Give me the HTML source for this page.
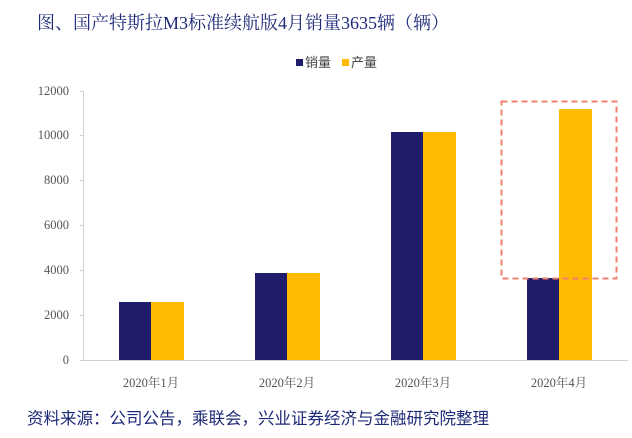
<!DOCTYPE html>
<html><head><meta charset="utf-8"><style>
body{margin:0;background:#fff;width:632px;height:433px;overflow:hidden;font-family:"Liberation Serif","Noto Serif CJK SC",serif}
</style></head><body>
<svg width="632" height="433" xmlns="http://www.w3.org/2000/svg">
<text x="37" y="29" font-size="18" fill="#1e2a78" font-family="Liberation Serif, Noto Serif CJK SC, serif">图、国产特斯拉M3标准续航版4月销量3635辆（辆）</text>
<rect x="296" y="59" width="7" height="7" fill="#1f1d6b"/>
<text x="305" y="67" font-size="13" fill="#444" font-family="Liberation Sans, Noto Sans CJK SC, sans-serif">销量</text>
<rect x="342" y="59" width="7" height="7" fill="#ffbb00"/>
<text x="351" y="67" font-size="13" fill="#444" font-family="Liberation Sans, Noto Sans CJK SC, sans-serif">产量</text>
<g font-size="12.5" fill="#555" text-anchor="end">
<text x="69" y="364">0</text><text x="69" y="319">2000</text><text x="69" y="274">4000</text>
<text x="69" y="229">6000</text><text x="69" y="184">8000</text><text x="69" y="139">10000</text><text x="69" y="95">12000</text>
</g>
<g stroke="#d0d0d0" stroke-width="1">
<line x1="83.5" y1="91" x2="83.5" y2="360"/>
<line x1="80" y1="360.5" x2="628" y2="360.5"/>
<line x1="80" y1="315.5" x2="83" y2="315.5"/>
<line x1="80" y1="270.5" x2="83" y2="270.5"/><line x1="80" y1="225.5" x2="83" y2="225.5"/>
<line x1="80" y1="180.5" x2="83" y2="180.5"/><line x1="80" y1="135.5" x2="83" y2="135.5"/>
<line x1="80" y1="91.5" x2="83" y2="91.5"/>
</g>
<g fill="#1f1d6b">
<rect x="119" y="302" width="32" height="58"/><rect x="255" y="273" width="32" height="87"/>
<rect x="391" y="132" width="32" height="228"/><rect x="527" y="278" width="32" height="82"/>
</g>
<g fill="#ffbb00">
<rect x="151" y="302" width="33" height="58"/><rect x="287" y="273" width="33" height="87"/>
<rect x="423" y="132" width="33" height="228"/><rect x="559" y="109" width="33" height="251"/>
</g>
<rect x="501.5" y="101.5" width="115" height="177" fill="none" stroke="#f08070" stroke-width="2" stroke-dasharray="6,4"/>
<g font-size="12.5" fill="#555" text-anchor="middle" font-family="Liberation Serif, Noto Serif CJK SC, serif">
<text x="151" y="387">2020年1月</text><text x="287" y="387">2020年2月</text>
<text x="423" y="387">2020年3月</text><text x="559" y="387">2020年4月</text>
</g>
<text x="27" y="424" font-size="16.5" fill="#1e2a78" font-family="Liberation Sans, Noto Sans CJK SC, sans-serif">资料来源：公司公告，乘联会，兴业证券经济与金融研究院整理</text>
</svg>
</body></html>
